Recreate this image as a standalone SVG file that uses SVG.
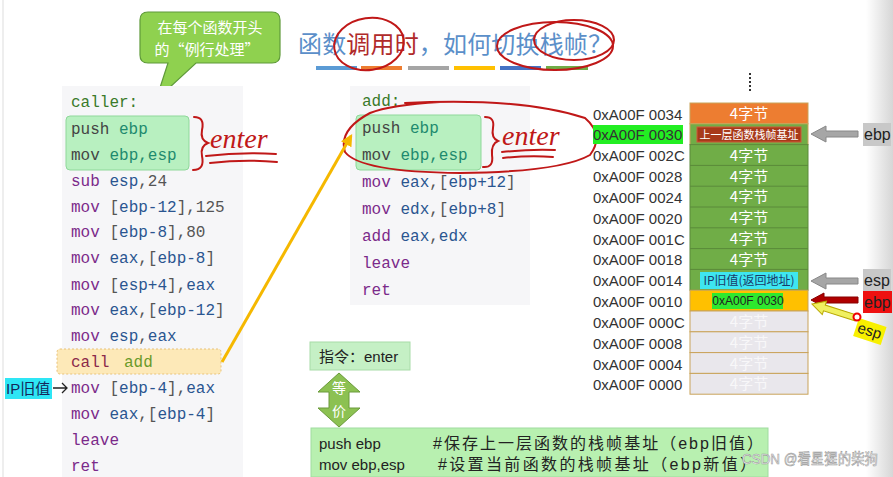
<svg xmlns="http://www.w3.org/2000/svg" width="893" height="477" viewBox="0 0 893 477">
<style>
.code{font-family:"Liberation Mono","DejaVu Sans Mono",monospace;font-size:16px}
.lbl{fill:#3a7a2a}.mn{fill:#7b2a8a}.op{fill:#2a5590}.pn{fill:#555}.hm{fill:#444}.hr{fill:#1e8a6e}
.addr{font-family:"Liberation Sans","Noto Sans CJK SC",sans-serif;font-size:15px;fill:#333}
.cell{stroke:#c9a35a;stroke-width:1}
.four{font-family:"Noto Sans CJK SC",sans-serif;font-size:15px;fill:#fff;text-anchor:middle}
.pen{fill:none;stroke:#c01818;stroke-width:2;stroke-linecap:round}
.hand{font-family:"Liberation Serif",serif;font-style:italic;font-size:28px;fill:#c01818}
.sans{font-family:"Liberation Sans","Noto Sans CJK SC",sans-serif}
.cjk{font-family:"Noto Sans CJK SC",sans-serif}
.hl{fill:#b8f0c0;stroke:#8fd89a;stroke-width:1}
</style>
<defs>
<linearGradient id="edge" x1="0" y1="0" x2="1" y2="0"><stop offset="0" stop-color="#fff"/><stop offset="1" stop-color="#d6d6d6"/></linearGradient>
<marker id="ya" viewBox="0 0 10 10" refX="8" refY="5" markerWidth="4" markerHeight="4" orient="auto"><path d="M0,0 L10,5 L0,10 z" fill="#f5b800"/></marker>
</defs>
<rect width="893" height="477" fill="#fff"/>
<rect x="866" y="0" width="27" height="477" fill="url(#edge)"/>
<line x1="3" y1="0" x2="3" y2="477" stroke="#ddd"/>

<!-- title -->
<g id="title">
<text x="298" y="53" class="sans" font-size="24" fill="#5b8fc9" textLength="314" lengthAdjust="spacing">函数<tspan fill="#b02a2a">调用时</tspan>，如何切换栈帧？</text>
<rect x="316" y="66" width="41" height="4" fill="#5b9bd5"/>
<rect x="361" y="66" width="41" height="4" fill="#ed7d31"/>
<rect x="408" y="66" width="41" height="4" fill="#a5a5a5"/>
<rect x="454" y="66" width="41" height="4" fill="#ffc000"/>
<rect x="500" y="66" width="41" height="4" fill="#4472c4"/>
<rect x="546" y="66" width="42" height="4" fill="#70ad47"/>
<ellipse class="pen" cx="369" cy="44" rx="35" ry="26" transform="rotate(-8 369 44)"/>
<ellipse class="pen" cx="555" cy="46" rx="58" ry="24"/>
<ellipse class="pen" cx="574" cy="40" rx="40" ry="20"/>
</g>

<!-- bubble -->
<g id="bubble">
<path d="M148,12 H272 Q280,12 280,20 V55 Q280,63 272,63 H196 L156,100 L168,63 H148 Q140,63 140,55 V20 Q140,12 148,12 Z" fill="#8fd14f" stroke="#5f9a3a" stroke-width="1.2"/>
<text x="210" y="33" class="cjk" font-size="15" fill="#fff" text-anchor="middle">在每个函数开头</text>
<text x="207" y="55" class="cjk" font-size="15" fill="#fff" text-anchor="middle">的“例行处理”</text>
</g>

<!-- caller code -->
<g id="caller">
<rect x="62" y="86" width="181" height="391" fill="#f6f6f8"/>
<rect class="hl" x="66" y="116" width="123" height="54" rx="4"/>
<rect x="57" y="349" width="164" height="25" rx="3" fill="#fde9b8" stroke="#e8c27a" stroke-dasharray="2 2"/>
<g class="code">
<text x="71" y="107" class="lbl">caller:</text>
<text x="71" y="134"><tspan class="hm">push</tspan> <tspan class="hr">ebp</tspan></text>
<text x="71" y="160"><tspan class="hm">mov</tspan> <tspan class="hr">ebp,esp</tspan></text>
<text x="71" y="186"><tspan class="mn">sub</tspan> <tspan class="op">esp</tspan><tspan class="pn">,24</tspan></text>
<text x="71" y="212"><tspan class="mn">mov</tspan> <tspan class="pn">[</tspan><tspan class="op">ebp-12</tspan><tspan class="pn">],125</tspan></text>
<text x="71" y="237"><tspan class="mn">mov</tspan> <tspan class="pn">[</tspan><tspan class="op">ebp-8</tspan><tspan class="pn">],80</tspan></text>
<text x="71" y="263"><tspan class="mn">mov</tspan> <tspan class="op">eax</tspan><tspan class="pn">,[</tspan><tspan class="op">ebp-8</tspan><tspan class="pn">]</tspan></text>
<text x="71" y="290"><tspan class="mn">mov</tspan> <tspan class="pn">[</tspan><tspan class="op">esp+4</tspan><tspan class="pn">],</tspan><tspan class="op">eax</tspan></text>
<text x="71" y="315"><tspan class="mn">mov</tspan> <tspan class="op">eax</tspan><tspan class="pn">,[</tspan><tspan class="op">ebp-12</tspan><tspan class="pn">]</tspan></text>
<text x="71" y="341"><tspan class="mn">mov</tspan> <tspan class="op">esp</tspan><tspan class="pn">,</tspan><tspan class="op">eax</tspan></text>
<text x="71" y="367" fill="#8b2a4a">call</text>
<text x="124" y="367" fill="#6a9a2a">add</text>
<text x="71" y="393"><tspan class="mn">mov</tspan> <tspan class="pn">[</tspan><tspan class="op">ebp-4</tspan><tspan class="pn">],</tspan><tspan class="op">eax</tspan></text>
<text x="71" y="419"><tspan class="mn">mov</tspan> <tspan class="op">eax</tspan><tspan class="pn">,[</tspan><tspan class="op">ebp-4</tspan><tspan class="pn">]</tspan></text>
<text x="71" y="445" class="mn">leave</text>
<text x="71" y="471" class="mn">ret</text>
</g>
<path class="pen" d="M194,117 Q205,117 202,130 Q200,140 208,143 Q200,146 202,156 Q205,170 193,170"/>
<text x="210" y="148" class="hand">enter</text>
<path class="pen" d="M206,156 Q240,152 276,154"/>
<path class="pen" d="M210,163 Q245,159 277,162"/>
</g>

<!-- add code -->
<g id="add">
<rect x="350" y="86" width="180" height="219" fill="#f6f6f8"/>
<rect class="hl" x="356" y="115" width="125" height="55" rx="4"/>
<g class="code">
<text x="362" y="106" class="lbl">add:</text>
<text x="362" y="133"><tspan class="hm">push</tspan> <tspan class="hr">ebp</tspan></text>
<text x="362" y="160"><tspan class="hm">mov</tspan> <tspan class="hr">ebp,esp</tspan></text>
<text x="362" y="187"><tspan class="mn">mov</tspan> <tspan class="op">eax</tspan><tspan class="pn">,[</tspan><tspan class="op">ebp+12</tspan><tspan class="pn">]</tspan></text>
<text x="362" y="214"><tspan class="mn">mov</tspan> <tspan class="op">edx</tspan><tspan class="pn">,[</tspan><tspan class="op">ebp+8</tspan><tspan class="pn">]</tspan></text>
<text x="362" y="241"><tspan class="mn">add</tspan> <tspan class="op">eax</tspan><tspan class="pn">,</tspan><tspan class="op">edx</tspan></text>
<text x="362" y="268" class="mn">leave</text>
<text x="362" y="295" class="mn">ret</text>
</g>
<path class="pen" d="M485,117 Q495,117 493,128 Q491,138 498,141 Q491,144 492,155 Q494,168 483,167"/>
<text x="502" y="145" class="hand">enter</text>
<path class="pen" d="M502,152 Q530,149 555,150"/>
<path class="pen" d="M503,158 Q530,155 553,157"/>
<path class="pen" d="M405,103 Q520,97 585,118 Q605,135 590,155 Q560,172 460,173 Q360,172 345,152 Q338,130 370,113 Q390,105 440,102"/>
</g>

<!-- stack -->
<g id="stack">
<line x1="750" y1="73" x2="750" y2="92" stroke="#333" stroke-width="2" stroke-dasharray="2 2"/>
<g class="addr">
<text x="593" y="120">0xA00F 0034</text>
<rect x="593" y="125" width="90" height="19" fill="#22ee22"/>
<text x="593" y="140">0xA00F 0030</text>
<text x="593" y="161">0xA00F 002C</text>
<text x="593" y="182">0xA00F 0028</text>
<text x="593" y="203">0xA00F 0024</text>
<text x="593" y="224">0xA00F 0020</text>
<text x="593" y="245">0xA00F 001C</text>
<text x="593" y="265">0xA00F 0018</text>
<text x="593" y="286">0xA00F 0014</text>
<text x="593" y="307">0xA00F 0010</text>
<text x="593" y="328">0xA00F 000C</text>
<text x="593" y="349">0xA00F 0008</text>
<text x="593" y="370">0xA00F 0004</text>
<text x="593" y="390">0xA00F 0000</text>
</g>
<rect class="cell" x="690" y="103" width="118" height="20.8" fill="#ed7d31"/>
<rect class="cell" x="690" y="123.8" width="118" height="20.8" fill="#70ad47" stroke="#5a8a3a"/>
<rect x="690" y="144.6" width="118" height="145.6" fill="#70ad47" stroke="#5a8a3a"/>
<g stroke="#5a8a3a"><line x1="690" y1="165.4" x2="808" y2="165.4"/><line x1="690" y1="186.2" x2="808" y2="186.2"/><line x1="690" y1="207" x2="808" y2="207"/><line x1="690" y1="227.8" x2="808" y2="227.8"/><line x1="690" y1="248.6" x2="808" y2="248.6"/><line x1="690" y1="269.4" x2="808" y2="269.4"/></g>
<rect class="cell" x="690" y="290.2" width="118" height="20.8" fill="#ffc000"/>
<rect class="cell" x="690" y="311" width="118" height="20.8" fill="#e9e7ec"/>
<rect class="cell" x="690" y="331.8" width="118" height="20.8" fill="#e9e7ec"/>
<rect class="cell" x="690" y="352.6" width="118" height="20.8" fill="#e9e7ec"/>
<rect class="cell" x="690" y="373.4" width="118" height="20.8" fill="#e9e7ec"/>
<text x="749" y="119" class="four">4字节</text>
<rect x="697" y="127" width="104" height="15" fill="#a83a1a" stroke="#d05a3a"/>
<text x="749" y="139" class="cjk" font-size="11" fill="#fff" text-anchor="middle">上一层函数栈帧基址</text>
<text x="749" y="161" class="four">4字节</text>
<text x="749" y="182" class="four">4字节</text>
<text x="749" y="202" class="four">4字节</text>
<text x="749" y="223" class="four">4字节</text>
<text x="749" y="244" class="four">4字节</text>
<text x="749" y="265" class="four">4字节</text>
<rect x="700" y="272" width="98" height="17" fill="#3ee6f0"/>
<text x="749" y="285" class="cjk" font-size="12" fill="#1a3a6a" text-anchor="middle">IP旧值(返回地址)</text>
<rect x="712" y="293" width="71" height="16" fill="#2ee82e"/>
<text x="748" y="305" class="sans" font-size="12" fill="#222" text-anchor="middle">0xA00F 0030</text>
<text x="749" y="327" class="four" fill-opacity="0.7">4字节</text>
<text x="749" y="348" class="four" fill-opacity="0.7">4字节</text>
<text x="749" y="369" class="four" fill-opacity="0.7">4字节</text>
<text x="749" y="389" class="four" fill-opacity="0.7">4字节</text>
</g>

<!-- pointer labels -->
<g id="lbl-ebp-top"><rect x="863" y="123" width="28" height="23" fill="#c8c8c8"/><text x="864" y="140" class="sans" font-size="16" fill="#222">ebp</text></g>
<g id="lbl-esp"><rect x="863" y="269" width="28" height="23" fill="#c8c8c8"/><text x="864" y="286" class="sans" font-size="16" fill="#222">esp</text></g>
<g id="lbl-ebp-red"><rect x="863" y="291" width="29" height="22" fill="#ee1111"/><text x="864" y="308" class="sans" font-size="16" fill="#222">ebp</text></g>
<g id="lbl-esp-yellow" transform="translate(859 318) rotate(18)"><rect x="0" y="0" width="29" height="19" fill="#f8f000"/><text x="2" y="14" class="sans" font-size="15" fill="#222">esp</text></g>

<!-- instruction boxes -->
<g id="enter-box"><rect x="310" y="342" width="100" height="28" fill="#c5f0c5" stroke="#a8dca8"/><text x="319" y="362" class="sans" font-size="15" fill="#222">指令：enter</text></g>
<g id="equiv">
<polygon points="339,373 360,392 349,392 349,408 360,408 339,427 318,408 329,408 329,392 318,392" fill="#8cc152" stroke="#6a9a3a"/>
<text x="339" y="393" class="cjk" font-size="14" fill="#fff" text-anchor="middle">等</text>
<text x="339" y="416" class="cjk" font-size="14" fill="#fff" text-anchor="middle">价</text>
</g>
<g id="equiv-box">
<rect x="311" y="428" width="457" height="49" fill="#b8f0b0" stroke="#a0dca0"/>
<text x="319" y="449" class="sans" font-size="15" fill="#222">push ebp</text>
<text x="433" y="449" class="sans" font-size="16" fill="#222" textLength="330" lengthAdjust="spacing">#保存上一层函数的栈帧基址（ebp旧值）</text>
<text x="319" y="470" class="sans" font-size="15" fill="#222">mov ebp,esp</text>
<text x="438" y="470" class="sans" font-size="16" fill="#222" textLength="318" lengthAdjust="spacing">#设置当前函数的栈帧基址（ebp新值）</text>
</g>
<g id="ip-old"><rect x="5" y="378" width="47" height="21" fill="#2ee6f5"/><text x="6" y="394" class="sans" font-size="15" fill="#14285a">IP旧值</text></g>

<text x="742" y="464" class="sans" font-size="15" fill="#fff" stroke="#999" stroke-width="0.6" textLength="136" lengthAdjust="spacingAndGlyphs">CSDN @看星猩的柴狗</text>

<!-- connectors -->
<g id="connectors">
<line x1="222" y1="362" x2="351" y2="136" stroke="#f5b800" stroke-width="3" marker-end="url(#ya)"/>
<path d="M53,388 H67 M62,383 L67,388 L62,393" fill="none" stroke="#222" stroke-width="1.3"/>
<polygon points="811,134 826,126 826,131 858,131 858,137 826,137 826,142" fill="#a6a6a6" stroke="#888"/>
<polygon points="811,281 826,273 826,278 858,278 858,284 826,284 826,289" fill="#a6a6a6" stroke="#888"/>
<polygon points="811,300 824,293 824,297 858,297 858,303 824,303 824,307" fill="#b00000" stroke="#800"/>
<g transform="translate(812 304) rotate(17.6)"><polygon points="0,0 13,-7 13,-3 46,-3 46,3 13,3 13,7" fill="#f0f060" stroke="#b8a800"/></g>
<circle cx="857" cy="317" r="3.5" fill="#fff" stroke="#e00" stroke-width="2"/>
</g>
</svg>
